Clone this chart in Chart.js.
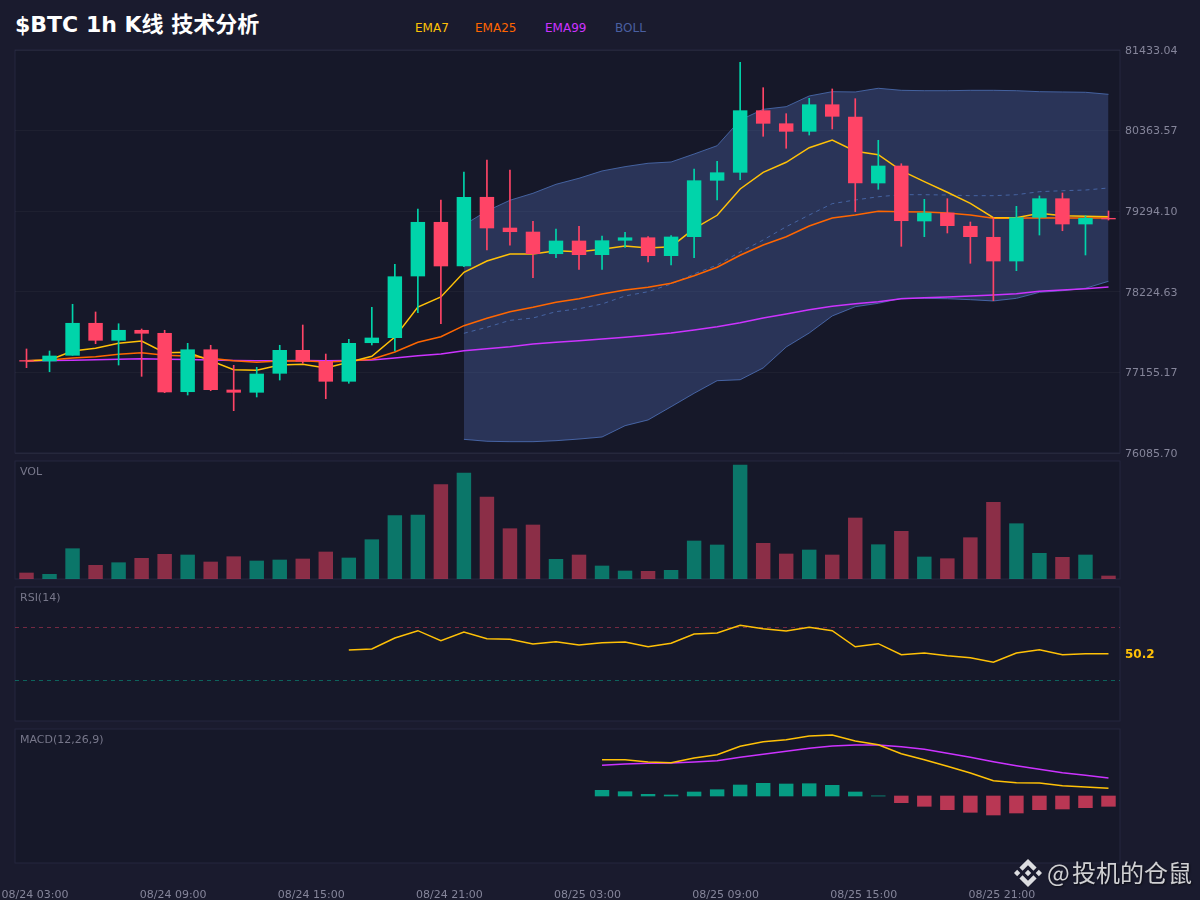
<!DOCTYPE html>
<html>
<head>
<meta charset="utf-8">
<script src="https://cdn.jsdelivr.net/npm/chart.js@4"></script>
<style>
html,body{margin:0;padding:0;width:1200px;height:900px;overflow:hidden;background:#1a1b2e;font-family:"DejaVu Sans","Noto Sans CJK SC",sans-serif}
canvas{position:absolute;left:0}
.t{position:absolute;white-space:nowrap;line-height:1}
#title{left:15px;top:14px;font-size:22px;font-weight:bold;color:#fff}
.leg{top:22px;font-size:12px}
.pl{left:20px;font-size:11px;color:#77778a}
#rsiv{left:1125px;top:648px;font-size:12px;font-weight:bold;color:#ffc107}
#wm{left:1047px;top:860px;font-size:24px;word-spacing:-3px;font-family:"Noto Sans CJK SC",sans-serif;color:rgba(255,255,255,.8);text-shadow:1px 1px 2px rgba(0,0,0,.6)}
#logo{position:absolute;left:1014px;top:859px;width:28px;height:28px}
</style>
</head>
<body>
<canvas id="c1" style="top:40px"></canvas>
<canvas id="c2" style="top:451px"></canvas>
<canvas id="c3" style="top:577px"></canvas>
<canvas id="c4" style="top:719px"></canvas>

<div class="t" id="title">$BTC 1h K线 技术分析</div>
<div class="t leg" style="left:415px;color:#ffc107">EMA7</div>
<div class="t leg" style="left:475px;color:#ff6600">EMA25</div>
<div class="t leg" style="left:545px;color:#cc33ff">EMA99</div>
<div class="t leg" style="left:615px;color:#4a5fa0">BOLL</div>
<div class="t pl" style="top:466px">VOL</div>
<div class="t pl" style="top:592px">RSI(14)</div>
<div class="t pl" style="top:734px">MACD(12,26,9)</div>
<div class="t" id="rsiv">50.2</div>
<svg id="logo" viewBox="0 0 126.61 126.61"><path fill="rgba(255,255,255,.85)" d="M38.73 53.2l24.59-24.58 24.6 24.6 14.3-14.31L63.32 0 24.42 38.9zM0 63.31l14.3-14.31 14.31 14.31L14.3 77.61zM38.73 73.41L63.32 98l24.6-24.6 14.31 14.29-38.9 38.91-38.91-38.88-.02-.02zM98 63.31L112.3 49l14.31 14.3-14.31 14.32zM77.83 63.3L63.32 48.78 52.59 59.51l-1.24 1.23-2.54 2.54 14.51 14.5 14.51-14.47z"/></svg>
<div class="t" id="wm">@ 投机的仓鼠</div>

<script>
const labels = ["08/24 03:00","08/24 04:00","08/24 05:00","08/24 06:00","08/24 07:00","08/24 08:00","08/24 09:00","08/24 10:00","08/24 11:00","08/24 12:00","08/24 13:00","08/24 14:00","08/24 15:00","08/24 16:00","08/24 17:00","08/24 18:00","08/24 19:00","08/24 20:00","08/24 21:00","08/24 22:00","08/24 23:00","08/25 00:00","08/25 01:00","08/25 02:00","08/25 03:00","08/25 04:00","08/25 05:00","08/25 06:00","08/25 07:00","08/25 08:00","08/25 09:00","08/25 10:00","08/25 11:00","08/25 12:00","08/25 13:00","08/25 14:00","08/25 15:00","08/25 16:00","08/25 17:00","08/25 18:00","08/25 19:00","08/25 20:00","08/25 21:00","08/25 22:00","08/25 23:00","08/26 00:00","08/26 01:00","08/26 02:00"];
const priceTicks = [76085.70,77155.17,78224.63,79294.10,80363.57,81433.04];

const opens  = [77313,77306,77382,77807,77581,77714,77674,76899,77456,76922,76891,77143,77448,77302,77037,77549,77616,78434,79147,78567,79479,79071,79018,78730,78899,78717,78908,78942,78704,78956,79704,79810,80628,80455,80354,80707,80544,79668,79894,79164,79270,79094,78948,78633,79213,79460,79124,79200];
const highs  = [77466,77439,78059,77957,77801,77731,77714,77541,77515,77249,77223,77515,77784,77399,77594,78019,78590,79323,79443,79814,79973,79841,79160,79058,79094,78965,79014,78956,78969,79854,79956,81270,80933,80588,80792,80916,80787,80235,79924,79452,79460,79151,79208,79359,79496,79536,79234,79297];
const lows   = [77218,77164,77382,77536,77253,77103,76886,76855,76912,76647,76829,77054,77276,76806,77011,77519,77439,77947,77801,78558,78779,78842,78412,78677,78523,78523,78815,78620,78580,78677,79443,79712,80288,80129,80305,80385,79287,79585,78828,78956,79005,78603,78107,78505,78978,79035,78713,79177];
const closes = [77304,77373,77807,77581,77714,77674,76895,77456,76926,76891,77134,77448,77302,77037,77541,77612,78425,79147,78567,79479,79071,79022,78730,78899,78717,78903,78942,78704,78952,79699,79805,80628,80460,80354,80707,80553,79668,79894,79168,79270,79102,78956,78633,79208,79460,79124,79200,79191];

const ema7  = [77310,77320,77439,77475,77541,77572,77417,77422,77310,77191,77183,77253,77263,77214,77289,77369,77625,78023,78156,78483,78633,78726,78726,78770,78757,78789,78832,78806,78823,79062,79240,79589,79810,79943,80137,80239,80089,80044,79832,79686,79545,79399,79208,79208,79266,79234,79226,79221];
const ema25 = [77310,77320,77346,77363,77395,77417,77382,77373,77342,77310,77289,77306,77310,77293,77306,77329,77426,77555,77629,77775,77873,77961,78019,78085,78133,78195,78248,78284,78337,78438,78550,78710,78846,78956,79098,79204,79244,79293,79287,79284,79270,79244,79200,79200,79208,79204,79204,79204];
const ema99 = [77310,77313,77317,77322,77329,77336,77330,77326,77320,77312,77309,77309,77312,77309,77312,77320,77346,77377,77399,77443,77470,77496,77532,77555,77576,77598,77621,77648,77678,77718,77762,77815,77877,77930,77986,78032,78065,78093,78133,78146,78156,78169,78182,78199,78231,78248,78266,78288];

const bollStart = 19;
const bollUpperValues = [79111,79297,79439,79532,79651,79731,79828,79885,79930,79947,80053,80163,80504,80646,80681,80823,80880,80876,80925,80898,80893,80893,80898,80898,80893,80880,80876,80872,80845];
const bollMidValues   = [77674,77754,77846,77877,77961,78000,78063,78169,78226,78328,78461,78580,78753,78912,79088,79244,79394,79443,79486,79513,79513,79509,79500,79500,79513,79553,79566,79575,79602];
const bollLowerValues = [76267,76241,76236,76236,76249,76271,76298,76448,76524,76700,76878,77045,77058,77214,77492,77678,77904,78027,78072,78138,78138,78133,78120,78103,78138,78218,78239,78271,78364];

const volumes = [60,47,303,137,163,207,247,240,170,223,180,190,200,270,210,393,633,640,943,1060,820,503,540,197,240,130,80,77,87,380,340,1140,357,250,290,240,610,343,477,220,203,413,767,553,257,217,240,30];

const rsiStart = 14;
const rsiValues = [53.0,53.7,61.9,67.4,59.9,66.4,61.4,61.0,57.5,59.2,56.7,58.4,59.0,55.4,58.0,64.9,65.7,71.4,68.9,67.2,69.9,67.4,55.4,57.7,49.5,50.7,48.7,47.2,43.8,50.7,53.2,49.5,50.2,50.2];
const rsiLevels = [30,70];

const macdStart = 25;
const difValues  = [181.5,181.5,170,166.5,190,206.5,248.5,271.5,281.5,300,305,275,256.5,211.5,181.5,148.5,115,76.5,66.5,65,51.5,45,38.5];
const deaValues  = [153.5,160,163.5,165,170,176.5,193.5,208.5,223.5,238.5,250,255,255,246.5,233.5,213.5,193.5,171.5,151.5,133.5,116.5,103.5,90];
const histValues = [28.5,21.5,8.5,5,20,31.5,55,63.5,60,61.5,53.5,20,0.5,-33.5,-51.5,-68.5,-81.5,-95,-85,-68.5,-65,-58.5,-51.5];

const pad = (n, arr) => new Array(n).fill(null).concat(arr);
const UP = '#00d4aa', DOWN = '#ff4466';
const upA = a => `rgba(0,212,170,${a})`, dnA = a => `rgba(255,68,102,${a})`;
const YEL = '#ffc107', ORG = '#ff6600', PUR = '#cc33ff', BOL = 'rgba(72,104,170,.9)';
const PANEL = '#161829', EDGE = '#24263e', TICK = '#85859a';
const FONT = {family:'"DejaVu Sans"', size:11};
const BAR_W = 13.8;

Chart.defaults.animation = false;
Chart.defaults.font.family = '"DejaVu Sans"';

const panelPlugin = {
  id:'panel',
  beforeDraw(c){
    const {left,top,width,height} = c.chartArea, g = c.ctx;
    g.save(); g.fillStyle = PANEL; g.fillRect(left,top,width,height);
    g.strokeStyle = EDGE; g.lineWidth = 1; g.strokeRect(left,top,width,height); g.restore();
  }
};
const line = (label,data,color,order,extra={}) => Object.assign({type:'line',label,data,borderColor:color,borderWidth:1.5,pointRadius:0,tension:0,fill:false,order,spanGaps:false},extra);
const hiddenX = {type:'category',offset:true,display:false,grid:{display:false}};
const common = (pad2) => ({responsive:false,animation:false,layout:{padding:pad2},
  datasets:{bar:{grouped:false,borderSkipped:false,borderWidth:0}},
  plugins:{legend:{display:false},tooltip:{enabled:false}}});
const size = (id,h) => { const e=document.getElementById(id); e.width=1200; e.height=h; e.style.width='1200px'; e.style.height=h+'px'; return e; };

/* ---------- price ---------- */
const up = i => closes[i] >= opens[i];
new Chart(size('c1',423),{
  type:'bar',plugins:[panelPlugin],
  data:{labels,datasets:[
    {label:'body',data:opens.map((o,i)=>[o,closes[i]]),backgroundColor:opens.map((_,i)=>up(i)?UP:DOWN),barThickness:BAR_W,order:1},
    {label:'wick',data:lows.map((l,i)=>[l,highs[i]]),backgroundColor:lows.map((_,i)=>up(i)?UP:DOWN),barThickness:1,order:2},
    line('EMA7',ema7,YEL,3),
    line('EMA25',ema25,ORG,4),
    line('EMA99',ema99,PUR,5),
    line('BOLL mid',pad(bollStart,bollMidValues),BOL,6,{borderWidth:1,borderDash:[4,4]}),
    line('BOLL upper',pad(bollStart,bollUpperValues),BOL,7,{borderWidth:1,fill:'+1',backgroundColor:'rgba(90,120,200,.3)'}),
    line('BOLL lower',pad(bollStart,bollLowerValues),BOL,7,{borderWidth:1})
  ]},
  options:Object.assign(common({left:15,right:0,top:10,bottom:10}),{
    scales:{
      x:hiddenX,
      y:{position:'right',min:priceTicks[0],max:priceTicks[5],
        afterBuildTicks(s){s.ticks=priceTicks.map(v=>({value:v}));},
        afterFit(s){s.width=80;s.paddingTop=0;s.paddingBottom=0;},
        ticks:{color:TICK,font:FONT,padding:5,labelOffset:1,callback:v=>v.toFixed(2)},
        border:{display:false},
        grid:{color:'rgba(255,255,255,.035)',drawTicks:false,lineWidth:1}}
    }})
});

/* ---------- volume ---------- */
new Chart(size('c2',138),{
  type:'bar',plugins:[panelPlugin],
  data:{labels,datasets:[{label:'VOL',data:volumes,barThickness:BAR_W,backgroundColor:volumes.map((_,i)=>up(i)?upA(.5):dnA(.5))}]},
  options:Object.assign(common({left:15,right:80,top:10,bottom:10}),{
    scales:{x:hiddenX,y:{display:false,min:0,max:1180}}})
});

/* ---------- RSI ---------- */
new Chart(size('c3',154),{
  type:'line',plugins:[panelPlugin],
  data:{labels,datasets:[line('RSI',pad(rsiStart,rsiValues),YEL,1)]},
  options:Object.assign(common({left:15,right:80,top:10,bottom:10}),{
    scales:{x:hiddenX,
      y:{min:0,max:100,
        afterBuildTicks(s){s.ticks=rsiLevels.map(v=>({value:v}));},
        afterFit(s){s.width=0;s.paddingTop=0;s.paddingBottom=0;},
        ticks:{display:false},
        border:{display:false,dash:[4,4]},
        grid:{drawTicks:false,lineWidth:1,color:c=>c.index===1?dnA(.4):upA(.4)}}
    }})
});

/* ---------- MACD ---------- */
new Chart(size('c4',181),{
  type:'bar',plugins:[panelPlugin],
  data:{labels,datasets:[
    line('DIF',pad(macdStart,difValues),YEL,1),
    line('DEA',pad(macdStart,deaValues),PUR,2),
    {label:'HIST',data:pad(macdStart,histValues),barThickness:BAR_W,order:3,
     backgroundColor:pad(macdStart,histValues.map(v=>v>=0?upA(.7):dnA(.7)))}
  ]},
  options:Object.assign(common({left:15,right:80,top:10,bottom:0}),{
    scales:{
      x:{type:'category',offset:true,
        grid:{display:false,drawTicks:false},border:{display:false},
        afterFit(s){s.height=37;s.paddingLeft=0;s.paddingRight=0;},
        ticks:{autoSkip:false,maxRotation:0,minRotation:0,color:TICK,font:FONT,padding:26,labelOffset:8.5,
          callback(v,i){return i%6===0?labels[i]:'';}}},
      y:{display:false,min:-335,max:335}
    }})
});
</script>
</body>
</html>
